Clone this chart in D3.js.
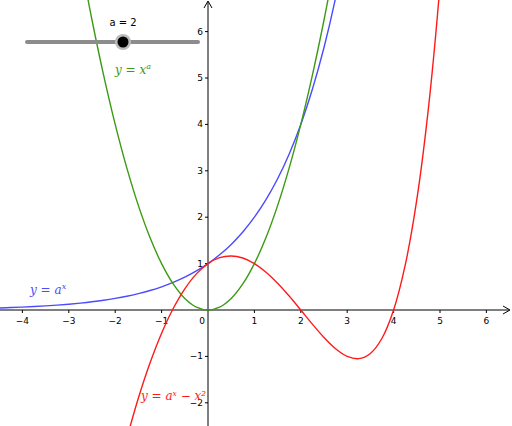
<!DOCTYPE html><html><head><script src="https://cdn.jsdelivr.net/npm/d3@7"></script>
<style>body{margin:0;background:#fff}</style></head><body><svg id="c" width="512" height="426"></svg>
<script>
const expX=[-4.5,-4.25,-4,-3.75,-3.5,-3.25,-3,-2.75,-2.5,-2.25,-2,-1.75,-1.5,-1.25,-1,-0.75,-0.5,-0.25,0,0.25,0.5,0.75,1,1.25,1.5,1.75,2,2.25,2.5,2.75,3];
const expY=[0.044,0.053,0.0625,0.074,0.088,0.105,0.125,0.149,0.177,0.210,0.25,0.297,0.354,0.420,0.5,0.595,0.707,0.841,1,1.189,1.414,1.682,2,2.378,2.828,3.364,4,4.757,5.657,6.727,8];
const powX=[-2.75,-2.5,-2.25,-2,-1.75,-1.5,-1.25,-1,-0.75,-0.5,-0.25,0,0.25,0.5,0.75,1,1.25,1.5,1.75,2,2.25,2.5,2.75];
const powY=[7.5625,6.25,5.0625,4,3.0625,2.25,1.5625,1,0.5625,0.25,0.0625,0,0.0625,0.25,0.5625,1,1.5625,2.25,3.0625,4,5.0625,6.25,7.5625];
const difX=[-1.75,-1.5,-1.25,-1,-0.75,-0.5,-0.25,0,0.25,0.5,0.75,1,1.25,1.5,1.75,2,2.25,2.5,2.75,3,3.25,3.5,3.75,4,4.25,4.5,4.75,5,5.25];
const difY=[-2.765,-1.896,-1.143,-0.5,0.032,0.457,0.779,1,1.127,1.164,1.120,1,0.815,0.578,0.301,0,-0.305,-0.593,-0.835,-1,-1.049,-0.936,-0.609,0,0.965,2.377,4.346,7,10.49];
const xTicks=[-4,-3,-2,-1,0,1,2,3,4,5,6];
const yTicks=[-2,-1,1,2,3,4,5,6];
const svg=d3.select("#c");
const x=d3.scaleLinear().domain([0,1]).range([208,254.4]);
const y=d3.scaleLinear().domain([0,1]).range([310,263.6]);
svg.append("defs").append("clipPath").attr("id","cp").append("rect").attr("width",512).attr("height",426);
svg.append("line").attr("x1",0).attr("x2",509).attr("y1",y(0)).attr("y2",y(0)).attr("stroke","#000");
svg.append("line").attr("x1",x(0)).attr("x2",x(0)).attr("y1",426).attr("y2",2).attr("stroke","#000");
svg.append("path").attr("d",`M503,${y(0)-4}L510,${y(0)}L503,${y(0)+4}`).attr("fill","none").attr("stroke","#000");
svg.append("path").attr("d",`M${x(0)-4},8L${x(0)},1L${x(0)+4},8`).attr("fill","none").attr("stroke","#000");
xTicks.forEach(t=>{
  if(t!==0) svg.append("line").attr("x1",x(t)).attr("x2",x(t)).attr("y1",y(0)).attr("y2",y(0)+3).attr("stroke","#000");
  svg.append("text").attr("x",t===0?x(t)-6:x(t)).attr("y",y(0)+14).attr("text-anchor","middle").attr("font-family","DejaVu Sans").attr("font-size",9).text(t===0?"0":(t<0?"−"+(-t):t));
});
yTicks.forEach(t=>{
  svg.append("line").attr("x1",x(0)-3).attr("x2",x(0)).attr("y1",y(t)).attr("y2",y(t)).attr("stroke","#000");
  svg.append("text").attr("x",x(0)-5).attr("y",y(t)+3).attr("text-anchor","end").attr("font-family","DejaVu Sans").attr("font-size",9).text(t<0?"−"+(-t):t);
});
const g=svg.append("g").attr("clip-path","url(#cp)");
const line=d3.line().curve(d3.curveCatmullRom);
function draw(xs,ys,c){g.append("path").attr("d",line(xs.map((v,i)=>[x(v),y(ys[i])]))).attr("fill","none").attr("stroke",c).attr("stroke-width",1.4);}
draw(expX,expY,"#4b4bff");
draw(powX,powY,"#3c9a14");
draw(difX,difY,"#ff1a1a");
svg.append("line").attr("x1",27).attr("x2",198).attr("y1",42).attr("y2",42).attr("stroke","#8c8c8c").attr("stroke-width",4).attr("stroke-linecap","round");
svg.append("circle").attr("cx",123).attr("cy",42).attr("r",8).attr("fill","#bbb");
svg.append("circle").attr("cx",123).attr("cy",42).attr("r",5.5).attr("fill","#000");
svg.append("text").attr("x",123).attr("y",26).attr("text-anchor","middle").attr("font-family","DejaVu Sans").attr("font-size",10).text("a = 2");
function lab(px,py,c,parts,fs){const t=svg.append("text").attr("x",px).attr("y",py).attr("fill",c).attr("font-family","DejaVu Serif").attr("font-size",fs||12);
 parts.forEach(p=>{const s=t.append("tspan").text(p[0]);if(p[1])s.attr("font-style","italic");if(p[2])s.attr("font-size",8).attr("dy",p[2]);});}
lab(115,74,"#3c9a14",[["y",1],[" = "],["x",1],["a",1,-5]]);
lab(30,294,"#4b4bff",[["y",1],[" = "],["a",1],["x",1,-5]]);
svg.append("text").attr("x",141).attr("y",400).attr("fill","#ff1a1a").attr("font-family","DejaVu Serif").attr("font-size",12).attr("font-style","italic").text("y = aˣ − x²");
</script></body></html>
